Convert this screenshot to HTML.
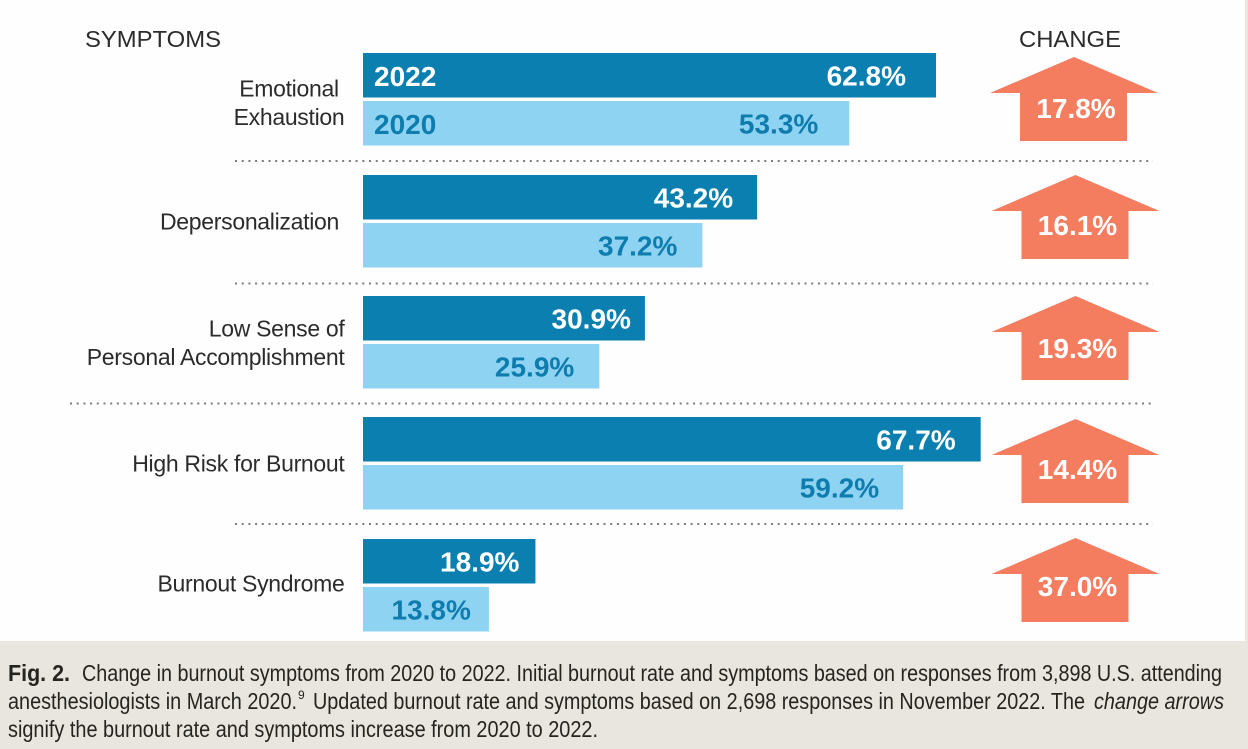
<!DOCTYPE html>
<html lang="en">
<head>
<meta charset="utf-8">
<title>Change in burnout symptoms from 2020 to 2022</title>
<style>
html,body{margin:0;padding:0;background:#fff}
#figure{display:block;width:1248px;height:749px}
text{font-family:"Liberation Sans",sans-serif}
</style>
</head>
<body>
<svg id="figure" xmlns="http://www.w3.org/2000/svg" width="1248" height="749" viewBox="0 0 1248 749">
  <rect x="0" y="0" width="1245" height="641" fill="#fefefe"/>
  <rect x="1245" y="0" width="3" height="641" fill="#e9e6e0"/>
  <text x="85" y="47" font-size="23" fill="#2b2b2b" textLength="136" lengthAdjust="spacingAndGlyphs">SYMPTOMS</text>
  <text x="1019" y="47" font-size="23" fill="#2b2b2b" textLength="102" lengthAdjust="spacingAndGlyphs">CHANGE</text>
  <g id="separators"></g>
  <g id="rows"></g>
  <g id="arrows"></g>
  <g font-size="23" fill="#26241f">
    <rect x="0" y="641" width="1248" height="108" fill="#e9e6e0"/>
    <text x="8" y="681" font-weight="700" textLength="62" lengthAdjust="spacingAndGlyphs">Fig. 2.</text>
    <text x="82" y="681" textLength="1140" lengthAdjust="spacingAndGlyphs">Change in burnout symptoms from 2020 to 2022. Initial burnout rate and symptoms based on responses from 3,898 U.S. attending</text>
    <text x="8" y="709" textLength="289" lengthAdjust="spacingAndGlyphs">anesthesiologists in March 2020.</text>
    <text x="298" y="699" font-size="12">9</text>
    <text x="313" y="709" textLength="772" lengthAdjust="spacingAndGlyphs">Updated burnout rate and symptoms based on 2,698 responses in November 2022. The</text>
    <text x="1094" y="709" font-style="italic" textLength="130" lengthAdjust="spacingAndGlyphs">change arrows</text>
    <text x="8" y="737" textLength="590" lengthAdjust="spacingAndGlyphs">signify the burnout rate and symptoms increase from 2020 to 2022.</text>
  </g>
</svg>
<script>
const categories = ["Emotional Exhaustion", "Depersonalization", "Low Sense of Personal Accomplishment", "High Risk for Burnout", "Burnout Syndrome"];
const values2022 = [62.8, 43.2, 30.9, 67.7, 18.9];
const values2020 = [53.3, 37.2, 25.9, 59.2, 13.8];
const changeValues = [17.8, 16.1, 19.3, 14.4, 37.0];
const seriesYears = ["2022", "2020"];

const NS = "http://www.w3.org/2000/svg";
function make(parent, tag, attrs, text) {
  const el = document.createElementNS(NS, tag);
  for (const k in attrs) el.setAttribute(k, attrs[k]);
  if (text !== undefined) el.textContent = text;
  parent.appendChild(el);
  return el;
}
function xScale(v) { return 363 + v * 9.124; }
function rowTop(i) { return Math.round(53.2 + i * 121.4); }
function slug(s) { return s.toLowerCase().replace(/[^a-z0-9]+/g, "-"); }

function splitLabel(i) {
  if (i === 0) return ["Emotional", "Exhaustion"];
  if (i === 2) return ["Low Sense of", "Personal Accomplishment"];
  return [categories[i]];
}

function drawBar(group, i, value, year, fill, textFill, inset, top) {
  const bar = make(group, "rect", { x: 363, y: top, width: xScale(value) - 363, height: 44.5, fill: fill });
  
  
  const label = make(group, "text", { x: xScale(value) - inset, y: top + 32.5, "text-anchor": "end", "font-size": 28, "font-weight": 700, fill: textFill }, value.toFixed(1) + "%");
  
  
}

function drawRows() {
  const rows = document.getElementById("rows");
  const inset2022 = [30, 24, 14, 25, 16];
  const inset2020 = [31, 25, 25, 24, 18];
  const labelEnd = [344, 339, 344.5, 344.5, 344.5];
  const labelShift = [0, 0, -3, 0, -2];
  categories.forEach(function (name, i) {
    const top = rowTop(i);
    const g = make(rows, "g", {});
    
    
    drawBar(g, i, values2022[i], seriesYears[0], "#0a7fb0", "#ffffff", inset2022[i], top);
    drawBar(g, i, values2020[i], seriesYears[1], "#8fd3f3", "#0f7cae", inset2020[i], top + 48);
    const lines = splitLabel(i);
    const mid = top + 46.5 + labelShift[i];
    const baselines = lines.length === 2 ? [mid - 3, mid + 25.5] : [mid + 8];
    lines.forEach(function (line, j) {
      const anchorX = (i === 0) ? 289 : labelEnd[i];
      const t = make(g, "text", { x: anchorX, y: baselines[j], "text-anchor": i === 0 ? "middle" : "end", "font-size": 23, fill: "#2b2b2b", "letter-spacing": "-0.3" }, line);
      
      
    });
  });
  const y22 = make(rows, "text", { x: 374, y: 86, "font-size": 28, "font-weight": 700, fill: "#ffffff" }, seriesYears[0]);
  
  
  const y20 = make(rows, "text", { x: 374, y: 134, "font-size": 28, "font-weight": 700, fill: "#0f7cae" }, seriesYears[1]);
  
  
}

function drawSeparators() {
  const group = document.getElementById("separators");
  const spec = [[235, 161], [235, 283.5], [70, 403.5], [235, 524]];
  spec.forEach(function (s, i) {
    const line = make(group, "line", { x1: s[0], x2: 1153, y1: s[1], y2: s[1], stroke: "#7c7c7c", "stroke-width": 2, "stroke-dasharray": "2 4.7" });
    
    
  });
}

function drawArrows() {
  const group = document.getElementById("arrows");
  const nudge = [4, 0, 0, 2, -1];
  const textNudge = [-1, -2, 0, -2, -4];
  categories.forEach(function (name, i) {
    const top = rowTop(i) + nudge[i];
    const cx = i === 0 ? 1074 : 1075.5;
    const g = make(group, "g", {});
    
    
    const pts = [[cx, top], [cx + 84, top + 36], [cx + 53, top + 36], [cx + 53, top + 84], [cx - 54, top + 84], [cx - 54, top + 36], [cx - 84, top + 36]];
    const shape = make(g, "polygon", { points: pts.map(function (p) { return p.join(","); }).join(" "), fill: "#f47c5f" });
    
    
    const label = make(g, "text", { x: cx + 2, y: top + 62 + textNudge[i], "text-anchor": "middle", "font-size": 28, "font-weight": 700, fill: "#ffffff" }, changeValues[i].toFixed(1) + "%");
    
    
  });
}

drawSeparators();
drawRows();
drawArrows();
</script>
</body>
</html>
